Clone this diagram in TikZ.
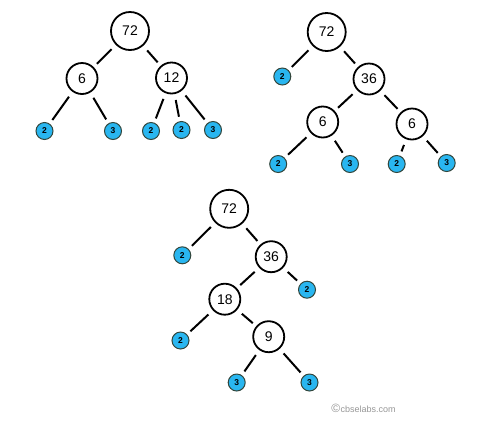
\documentclass[tikz,border=0pt]{standalone}
\usepackage{fontspec}
\setmainfont{Liberation Sans}
\definecolor{leafblue}{RGB}{41,182,240}
\definecolor{leafedge}{RGB}{50,70,60}
\definecolor{marktext}{RGB}{150,150,150}
\begin{document}
\begin{tikzpicture}[x=1pt,y=-1pt,
  rootnode/.style={circle,draw=black,line width=1.8pt,fill=white,minimum size=38pt,inner sep=0pt,font=\fontsize{14}{14}\selectfont},
  midnode/.style={circle,draw=black,line width=1.8pt,fill=white,minimum size=31pt,inner sep=0pt,font=\fontsize{14}{14}\selectfont},
  leafnode/.style={circle,draw=leafedge,line width=1pt,fill=leafblue,minimum size=17pt,inner sep=0pt,font=\bfseries\fontsize{8.5}{8.5}\selectfont},
  edge/.style={line width=2pt,shorten <=6pt,shorten >=4.5pt}]
\useasboundingbox (0,0) rectangle (500,432);
% Tree 1
\node[rootnode] (a72) at (130,31) {72};
\node[midnode] (a6) at (82,78.5) {6};
\node[midnode] (a12) at (171.5,78) {12};
\node[leafnode] (al1) at (44.5,131) {2};
\node[leafnode] (al2) at (113,131) {3};
\node[leafnode] (al3) at (151,131) {2};
\node[leafnode] (al4) at (181.5,130) {2};
\node[leafnode] (al5) at (213,130) {3};
\draw[edge] (a72) -- (a6);
\draw[edge] (a72) -- (a12);
\draw[edge] (a6) -- (al1);
\draw[edge] (a6) -- (al2);
\draw[edge] (a12) -- (al3);
\draw[edge] (a12) -- (al4);
\draw[edge] (a12) -- (al5);
% Tree 2
\node[rootnode] (b72) at (326.7,32) {72};
\node[leafnode] (bl0) at (282.3,76.5) {2};
\node[midnode] (b36) at (369,79) {36};
\node[midnode] (b6a) at (322.7,122) {6};
\node[midnode] (b6b) at (412,124) {6};
\node[leafnode] (bl1) at (278.2,164) {2};
\node[leafnode] (bl2) at (350,164) {3};
\node[leafnode] (bl3) at (396.7,164) {2};
\node[leafnode] (bl4) at (446.7,163) {3};
\draw[edge] (b72) -- (bl0);
\draw[edge] (b72) -- (b36);
\draw[edge] (b36) -- (b6a);
\draw[edge] (b36) -- (b6b);
\draw[edge] (b6a) -- (bl1);
\draw[edge] (b6a) -- (bl2);
\draw[edge] (b6b) -- (bl3);
\draw[edge] (b6b) -- (bl4);
% Tree 3
\node[rootnode] (c72) at (229.2,208.8) {72};
\node[leafnode] (cl0) at (182.3,255.3) {2};
\node[midnode] (c36) at (271.2,256.7) {36};
\node[leafnode] (cl1) at (307,289.7) {2};
\node[midnode] (c18) at (224.8,299.2) {18};
\node[leafnode] (cl2) at (180.5,340.5) {2};
\node[midnode] (c9) at (268.7,336.7) {9};
\node[leafnode] (cl3) at (236.7,382.5) {3};
\node[leafnode] (cl4) at (309.5,382.5) {3};
\draw[edge] (c72) -- (cl0);
\draw[edge] (c72) -- (c36);
\draw[edge] (c36) -- (cl1);
\draw[edge] (c36) -- (c18);
\draw[edge] (c18) -- (cl2);
\draw[edge] (c18) -- (c9);
\draw[edge] (c9) -- (cl3);
\draw[edge] (c9) -- (cl4);
% watermark
\node[text=marktext,font=\fontsize{9}{9}\selectfont,inner sep=0pt] (mark) at (363.5,408.5) {{\fontsize{12}{12}\selectfont ©}\kern0.5pt cbselabs.com};
\end{tikzpicture}
\end{document}
